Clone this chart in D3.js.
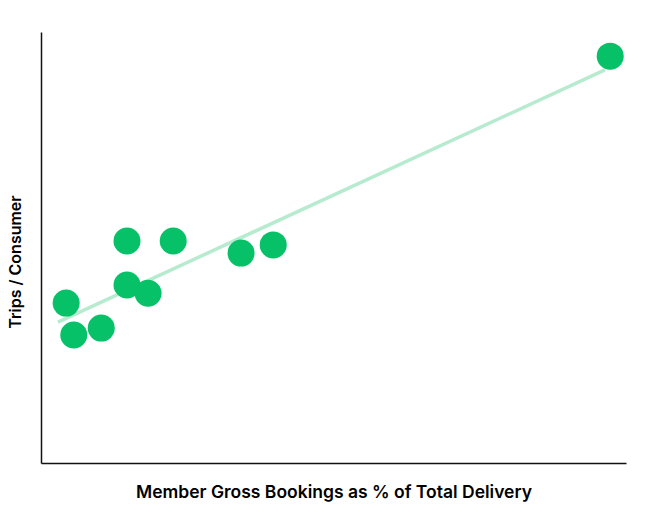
<!DOCTYPE html>
<html><head><meta charset="utf-8">
<script src="https://cdn.jsdelivr.net/npm/d3@7"></script>
<style>body{margin:0;background:#fff}</style></head>
<body><svg id="c" width="651" height="515"></svg>
<script>
const shareX = [4.3,5.6,10.3,14.7,14.7,18.3,22.6,34.2,39.7,97.3];
const tripsY = [37.1,29.7,31.3,51.5,41.3,39.4,51.5,48.7,50.6,94.4];
const trendX = [2.9,96.4];
const trendY = [32.7,91.2];
const svg = d3.select("#c");
const m = {l:41, r:625, t:32, b:463};
const x = d3.scaleLinear().domain([0,100]).range([m.l, m.l+585]);
const y = d3.scaleLinear().domain([0,100]).range([m.b, m.b-431]);
svg.append("g").attr("transform",`translate(0,${m.b})`)
  .call(d3.axisBottom(x).tickValues([]).tickSizeOuter(0))
  .select(".domain").attr("stroke","#111").attr("stroke-width",1.5);
svg.append("g").attr("transform",`translate(${m.l},0)`)
  .call(d3.axisLeft(y).tickValues([]).tickSizeOuter(0))
  .select(".domain").attr("stroke","#111").attr("stroke-width",1.5);
svg.append("line").attr("x1",x(trendX[0])).attr("y1",y(trendY[0]))
  .attr("x2",x(trendX[1])).attr("y2",y(trendY[1]))
  .attr("stroke","#b6ebcf").attr("stroke-width",3.5);
svg.selectAll("circle.d").data(shareX).join("circle").attr("class","d")
  .attr("cx",d=>x(d)).attr("cy",(d,i)=>y(tripsY[i])).attr("r",13.5).attr("fill","#06c167");
svg.append("text").attr("x",334).attr("y",498).attr("text-anchor","middle")
  .attr("font-family","Inter, sans-serif").attr("font-weight",600).attr("font-size",17.5)
  .text("Member Gross Bookings as % of Total Delivery");
svg.append("text").attr("transform","translate(21,262) rotate(-90)").attr("text-anchor","middle")
  .attr("font-family","Inter, sans-serif").attr("font-weight",600).attr("font-size",16)
  .text("Trips / Consumer");
</script></body></html>
